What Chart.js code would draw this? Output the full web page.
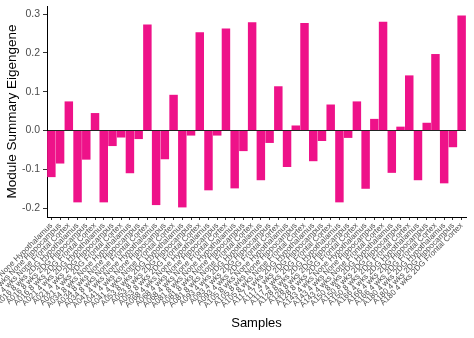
<!DOCTYPE html>
<html>
<head>
<meta charset="utf-8">
<script src="https://cdn.jsdelivr.net/npm/chart.js@4"></script>
<style>
  html, body { margin: 0; padding: 0; background: #fff; }
  #wrap { width: 474px; height: 338px; position: relative; }
</style>
</head>
<body>
<div id="wrap"><canvas id="meChart"></canvas></div>
<script>
// sample labels (ID, age, treatment, tissue)
const sampleLabels = [
  "A001 4 wks None Hypothalamus", "A001 4 wks None Hippocampus", "A001 4 wks None Frontal Cortex",
  "A016 8 wks 2DG Hypothalamus", "A016 8 wks 2DG Hippocampus", "A016 8 wks 2DG Frontal Cortex",
  "A021 4 wks 2DG Hypothalamus", "A021 4 wks 2DG Hippocampus", "A021 4 wks 2DG Frontal Cortex",
  "A034 8 wks None Hypothalamus", "A034 8 wks None Hippocampus", "A034 8 wks None Frontal Cortex",
  "A041 4 wks None Hypothalamus", "A041 4 wks None Hippocampus", "A041 4 wks None Frontal Cortex",
  "A053 8 wks 2DG Hypothalamus", "A053 8 wks 2DG Hippocampus", "A053 8 wks 2DG Frontal Cortex",
  "A068 4 wks None Hypothalamus", "A068 4 wks None Hippocampus", "A068 4 wks None Frontal Cortex",
  "A081 8 wks None Hypothalamus", "A081 8 wks None Hippocampus", "A081 8 wks None Frontal Cortex",
  "A093 4 wks 2DG Hypothalamus", "A093 4 wks 2DG Hippocampus", "A093 4 wks 2DG Frontal Cortex",
  "A105 8 wks None Hypothalamus", "A105 8 wks None Hippocampus", "A105 8 wks None Frontal Cortex",
  "A117 4 wks 2DG Hypothalamus", "A117 4 wks 2DG Hippocampus", "A117 4 wks 2DG Frontal Cortex",
  "A128 8 wks 2DG Hypothalamus", "A128 8 wks 2DG Hippocampus", "A128 8 wks 2DG Frontal Cortex",
  "A143 4 wks None Hypothalamus", "A143 4 wks None Hippocampus", "A143 4 wks None Frontal Cortex",
  "A150 8 wks 2DG Hypothalamus", "A150 8 wks 2DG Hippocampus", "A150 8 wks 2DG Frontal Cortex",
  "A166 4 wks 2DG Hypothalamus", "A166 4 wks 2DG Hippocampus", "A166 4 wks 2DG Frontal Cortex",
  "A180 4 wks 2DG Hypothalamus", "A180 4 wks 2DG Hippocampus", "A180 4 wks 2DG Frontal Cortex"
];

// module summary eigengene per sample
const eigengene = [
  -0.120, -0.085, 0.075, -0.185, -0.075, 0.045, -0.185, -0.040, -0.018, -0.110, -0.022, 0.273,
  -0.192, -0.074, 0.092, -0.198, -0.013, 0.253, -0.154, -0.013, 0.263, -0.149, -0.053, 0.279,
  -0.128, -0.032, 0.114, -0.094, 0.013, 0.277, -0.079, -0.027, 0.067, -0.185, -0.019, 0.075,
  -0.150, 0.030, 0.280, -0.109, 0.010, 0.142, -0.128, 0.020, 0.197, -0.136, -0.043, 0.296
];

const yTicks = [-0.2, -0.1, 0.0, 0.1, 0.2, 0.3];
const yMin = -0.2227;
const yMax = 0.3207;

Chart.defaults.font.family = "'Liberation Sans', Arial, sans-serif";
Chart.defaults.animation = false;

const textGray = '#4D4D4D';

new Chart(document.getElementById('meChart'), {
  type: 'bar',
  data: {
    labels: sampleLabels,
    datasets: [{
      data: eigengene,
      backgroundColor: '#EE1289',
      borderWidth: 0,
      barPercentage: 0.97,
      categoryPercentage: 1.0
    }]
  },
  options: {
    responsive: true,
    maintainAspectRatio: false,
    layout: { padding: { top: 6, right: 8, bottom: 3, left: 0 } },
    plugins: {
      legend: { display: false },
      tooltip: { enabled: false }
    },
    scales: {
      x: {
        grid: {
          display: true,
          drawOnChartArea: false,
          offset: false,
          tickLength: 3,
          tickColor: '#333'
        },
        border: { color: '#000', width: 1 },
        ticks: {
          autoSkip: false,
          minRotation: 45,
          maxRotation: 45,
          padding: 1,
          color: textGray,
          font: { size: 8 }
        },
        title: {
          display: true,
          text: 'Samples',
          color: '#000',
          font: { size: 13 },
          padding: { top: 4, bottom: 4 }
        },
        afterFit: (scale) => {
          scale.paddingLeft = 0;
          scale.paddingRight = 0;
          scale.height = 118;
        }
      },
      y: {
        min: yMin,
        max: yMax,
        z: 1,
        grid: {
          drawOnChartArea: true,
          color: (ctx) => (ctx.tick && ctx.tick.value === 0 ? '#222' : 'rgba(0,0,0,0)'),
          lineWidth: 1,
          tickLength: 4,
          tickColor: '#333'
        },
        border: { color: '#000', width: 1 },
        ticks: {
          color: textGray,
          padding: 3,
          font: { size: 10.5 },
          callback: (v) => v.toFixed(1)
        },
        afterBuildTicks: (scale) => {
          scale.ticks = yTicks.map(v => ({ value: v }));
        },
        title: {
          display: true,
          text: 'Module Summary Eigengene',
          color: '#000',
          font: { size: 13.5 },
          padding: { top: 4, bottom: 4 }
        },
        afterFit: (scale) => {
          scale.width = 47;
          scale.paddingTop = 0;
          scale.paddingBottom = 0;
        }
      }
    }
  }
});
</script>
</body>
</html>
